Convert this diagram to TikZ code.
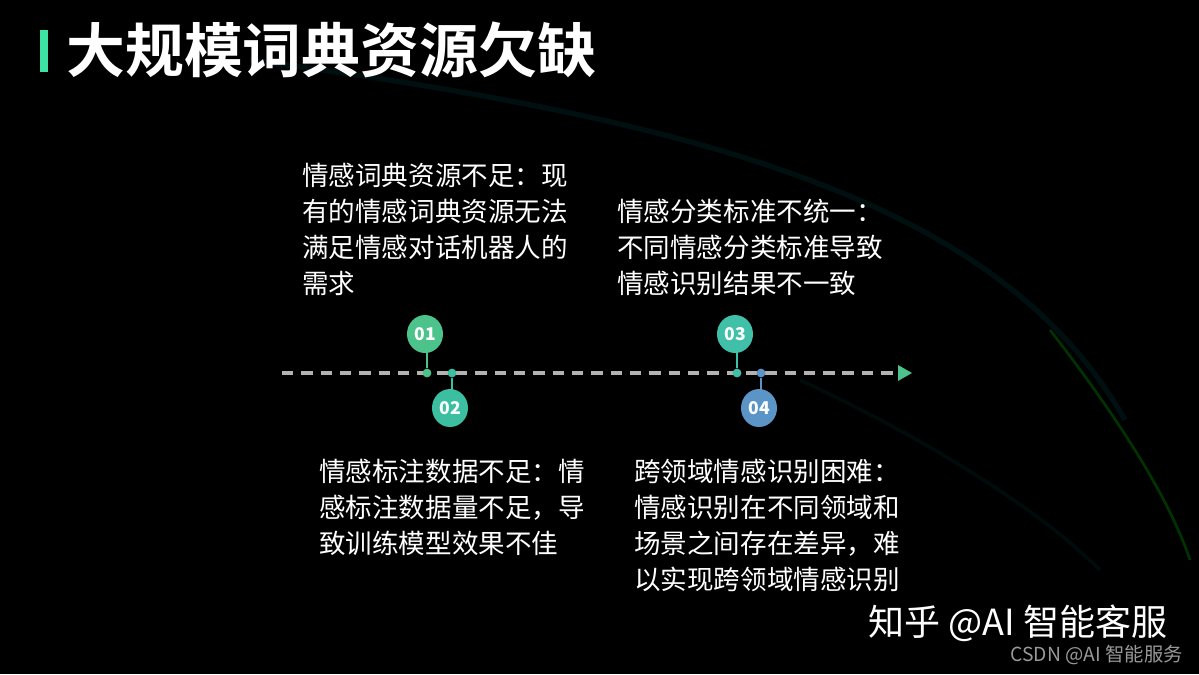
\documentclass[tikz,border=0pt]{standalone}
\usepackage{fontspec}
\setmainfont{Noto Sans CJK SC}
\newfontfamily\cjkbold{Noto Sans CJK SC Bold}
\usetikzlibrary{arrows.meta}
\definecolor{mint}{HTML}{3DE3A3}
\definecolor{badgeA}{HTML}{4CC38A}
\definecolor{badgeB}{HTML}{3CBFA0}
\definecolor{badgeC}{HTML}{40C0A8}
\definecolor{badgeD}{HTML}{5B95C8}
\begin{document}
\begin{tikzpicture}[x=0.02cm,y=-0.02cm,
    desc/.style = {anchor=north west, align=left, text=white, font=\fontsize{15.1}{20.5}\selectfont, inner sep=0pt},
    stem/.style = {line width=1pt},
    dot/.style = {circle, inner sep=0pt, minimum size=5pt}]
    \fill[black] (0,0) rectangle (1199,674);
    \useasboundingbox (0,0) rectangle (1199,674);
    % faint swooshes
    \draw[teal!25!black, line width=3pt, opacity=0.5] (250,60) .. controls (700,120) and (1000,200) .. (1125,420);
    \draw[teal!20!black, line width=2pt, opacity=0.5] (800,380) .. controls (950,450) and (1050,520) .. (1100,570);
    \draw[green!40!black, line width=1.5pt, opacity=0.5] (1050,330) .. controls (1120,420) and (1170,500) .. (1190,560);

    % title
    \fill[mint] (40,30) rectangle (48,72);
    \node[anchor=west, text=white, font=\cjkbold\fontsize{33.5}{36}\selectfont, inner sep=0pt] (title) at (66,50) {大规模词典资源欠缺};

    % timeline
    \coordinate (start) at (282,373);
    \coordinate (end) at (912,373);
    \draw[gray!60!white, line width=2pt, dash pattern=on 6.5pt off 4.5pt] (start) -- (900,373);
    \fill[badgeA] (end) -- (898,365) -- (898,381) -- cycle;

    \node[dot, fill=badgeA] (p1) at (427,373) {};
    \node[dot, fill=badgeB] (p2) at (452,373) {};
    \node[dot, fill=badgeC] (p3) at (737,373) {};
    \node[dot, fill=badgeD] (p4) at (761,373) {};

    \foreach \n/\x/\y/\c/\t in {b1/425/334/badgeA/01, b2/450/408/badgeB/02, b3/735/334/badgeC/03, b4/759/408/badgeD/04}
        \fill[\c] (\x,\y) ellipse (18 and 19) node[text=white, font=\bfseries\fontsize{10}{12}\selectfont] (\n) {\t};

    \draw[stem, badgeA] (427,352) -- (p1);
    \draw[stem, badgeB] (p2) -- (452,390);
    \draw[stem, badgeC] (737,352) -- (p3);
    \draw[stem, badgeD] (p4) -- (761,390);

    % descriptions
    \node[desc] (d1) at (302,163) {情感词典资源不足：现\\有的情感词典资源无法\\满足情感对话机器人的\\需求};
    \node[desc] (d3) at (617,199) {情感分类标准不统一：\\不同情感分类标准导致\\情感识别结果不一致};
    \node[desc] (d2) at (319,459) {情感标注数据不足：情\\感标注数据量不足，导\\致训练模型效果不佳};
    \node[desc] (d4) at (634,459) {跨领域情感识别困难：\\情感识别在不同领域和\\场景之间存在差异，难\\以实现跨领域情感识别};

    % watermarks
    \node[anchor=west, text=white, font=\fontsize{20.5}{24}\selectfont, inner sep=0pt] (zh) at (868,623) {知乎 @AI 智能客服};
    \node[anchor=east, text=gray!80, font=\fontsize{11}{13}\selectfont, inner sep=0pt] (cs) at (1183,655) {CSDN @AI 智能服务};
\end{tikzpicture}
\end{document}
